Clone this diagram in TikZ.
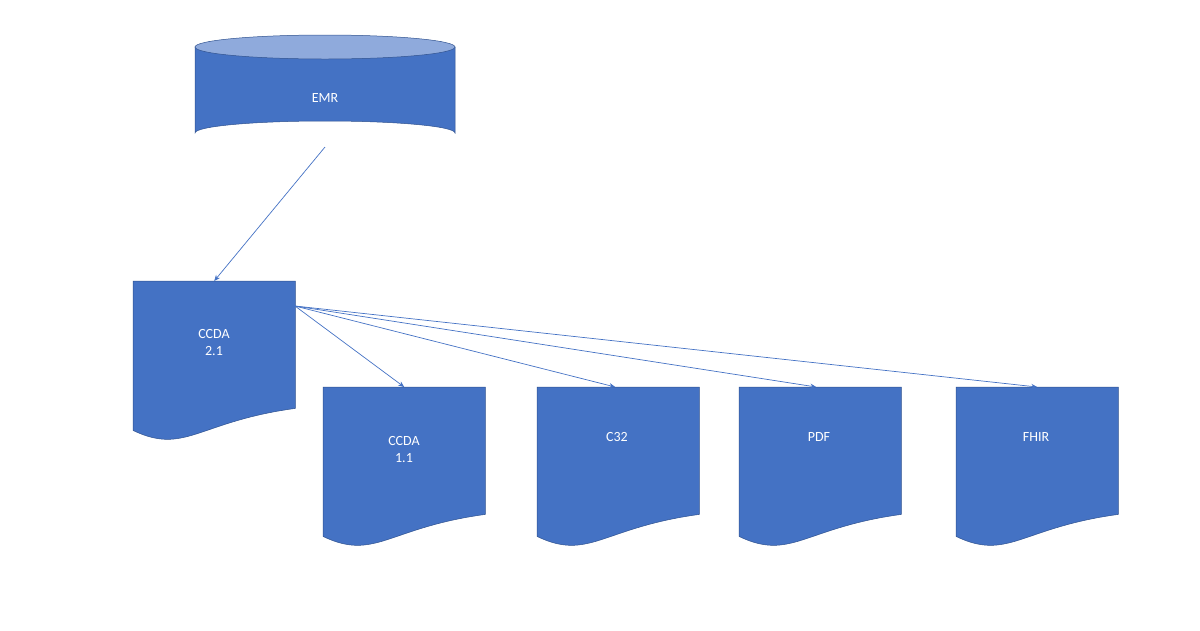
\documentclass[tikz,border=0pt]{standalone}
\usepackage{fontspec}
\setmainfont{Carlito}
\usetikzlibrary{arrows.meta}
\definecolor{fillb}{HTML}{4472C4}
\definecolor{topb}{HTML}{8FAADC}
\definecolor{edgeb}{HTML}{2F528F}
\tikzset{
  frame/.style={draw=none,minimum width=162pt,minimum height=127pt,anchor=north west,inner sep=0},
  docfill/.style={fill=fillb,draw=edgeb,line width=0.5pt},
  lbl/.style={text=white,font=\fontsize{14pt}{17pt}\selectfont,align=center},
  conn/.style={draw=fillb,line width=0.7pt,-{Stealth[length=6pt,width=5pt]}}
}
\newcommand\mydoc[3]{% name, x0, top
  \node[frame] (#1) at (#2,#3) {};
  \path[docfill] (#1.north west) -- (#1.north east) -- (#1.south east)
    .. controls ++(-97pt,-13pt) and ++(52pt,-25pt) .. ([yshift=-22pt]#1.south west) -- cycle;
}
\begin{document}
\begin{tikzpicture}[x=1pt,y=-1pt]
\useasboundingbox (0,0) rectangle (1200,630);
% cylinder
\path[docfill] (195,47) -- (195,133) arc[start angle=180,end angle=360,x radius=130,y radius=12] -- (455,47) -- cycle;
\path[fill=topb,draw=edgeb,line width=0.5pt] (325,47) ellipse[x radius=130,y radius=12];
\node[lbl] (emr) at (325,98) {EMR};
\coordinate (emrb) at (325,147);
% documents
\mydoc{ccda2}{133}{281}
\mydoc{ccda1}{323}{387}
\mydoc{c32}{537}{387}
\mydoc{pdf}{739}{387}
\mydoc{fhir}{956}{387}
\node[lbl] at (214,343) {CCDA\\2.1};
\node[lbl] at (404,450) {CCDA\\1.1};
\node[lbl] at (617,437) {C32};
\node[lbl] at (819,437) {PDF};
\node[lbl] at (1036,437) {FHIR};
\coordinate (src) at (295,306);
\draw[conn] (emrb) -- (ccda2.north);
\draw[conn] (src) -- (ccda1.north);
\draw[conn] (src) -- ([xshift=-3pt]c32.north);
\draw[conn] (src) -- ([xshift=-4pt]pdf.north);
\draw[conn] (src) -- (fhir.north);
\end{tikzpicture}
\end{document}
